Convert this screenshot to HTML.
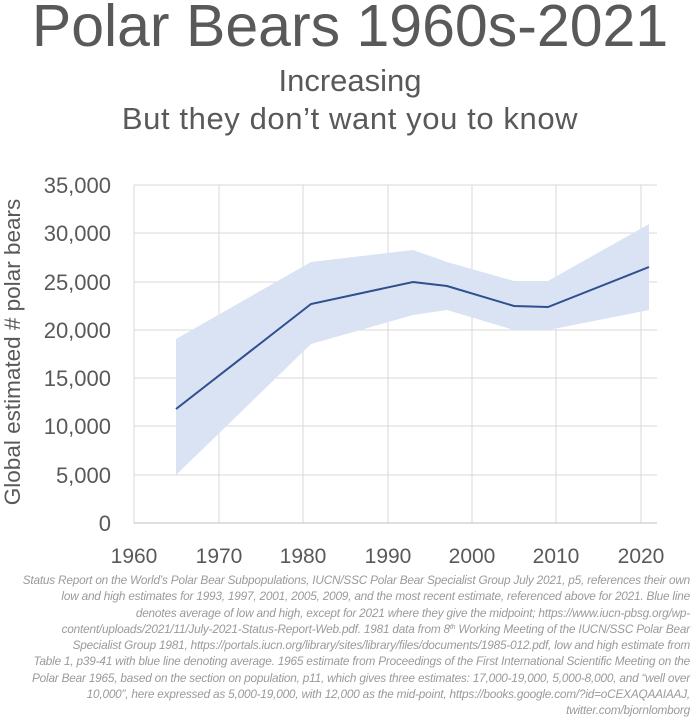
<!DOCTYPE html>
<html><head><style>
body{margin:0;width:700px;height:716px;background:#fff;font-family:"Liberation Sans",sans-serif;color:#595959;overflow:hidden;position:relative}
.t{position:absolute;left:0;width:700px;text-align:center;white-space:nowrap}
.foot{position:absolute;right:10px;top:572px;width:690px;text-align:right;font-style:italic;font-size:11.8px;line-height:16.3px;color:#9a9a9a;letter-spacing:-0.2px;white-space:nowrap}
sup{font-size:7px;line-height:0;vertical-align:4px}
</style></head><body>
<div class="t" style="top:-8px;font-size:59px">Polar Bears 1960s-2021</div>
<div class="t" style="top:63px;font-size:31px">Increasing</div>
<div class="t" style="top:101px;font-size:31px;letter-spacing:0.6px">But they don’t want you to know</div>
<svg width="700" height="716" style="position:absolute;left:0;top:0" font-family="Liberation Sans, sans-serif" fill="#595959">
<g stroke="#d9d9d9" stroke-width="1">
<line x1="134" x2="657" y1="185" y2="185"/><line x1="134" x2="657" y1="233" y2="233"/><line x1="134" x2="657" y1="282" y2="282"/><line x1="134" x2="657" y1="330" y2="330"/><line x1="134" x2="657" y1="378" y2="378"/><line x1="134" x2="657" y1="426" y2="426"/><line x1="134" x2="657" y1="475" y2="475"/>
<line x1="219" x2="219" y1="185" y2="523"/><line x1="303" x2="303" y1="185" y2="523"/><line x1="388" x2="388" y1="185" y2="523"/><line x1="472" x2="472" y1="185" y2="523"/><line x1="556" x2="556" y1="185" y2="523"/><line x1="641" x2="641" y1="185" y2="523"/>
</g>
<line x1="134" x2="134" y1="185" y2="523" stroke="#d9d9d9"/>
<line x1="134" x2="657" y1="523" y2="523" stroke="#bfbfbf"/>
<polygon fill="#dae3f3" points="176,339 311,262 413,250 447,262 514,281 548,281 649,224 649,310 548,330 514,330 447,310 413,315 311,344 176,475"/>
<polyline fill="none" stroke="#2f4f8f" stroke-width="2" points="176,409 311,304 413,282 447,286 514,306 548,307 649,267"/>
<g font-size="22" text-anchor="end">
<text x="111" y="193">35,000</text><text x="111" y="241">30,000</text><text x="111" y="290">25,000</text><text x="111" y="338">20,000</text><text x="111" y="386">15,000</text><text x="111" y="434">10,000</text><text x="111" y="483">5,000</text><text x="111" y="531">0</text>
</g>
<g font-size="21" text-anchor="middle">
<text x="134" y="563">1960</text><text x="219" y="563">1970</text><text x="303" y="563">1980</text><text x="388" y="563">1990</text><text x="472" y="563">2000</text><text x="556" y="563">2010</text><text x="641" y="563">2020</text>
</g>
<text transform="translate(20,352) rotate(-90)" font-size="22.5" text-anchor="middle">Global estimated # polar bears</text>
</svg>
<div class="foot">Status Report on the World’s Polar Bear Subpopulations, IUCN/SSC Polar Bear Specialist Group July 2021, p5, references their own<br>low and high estimates for 1993, 1997, 2001, 2005, 2009, and the most recent estimate, referenced above for 2021. Blue line<br>denotes average of low and high, except for 2021 where they give the midpoint; https://www.iucn-pbsg.org/wp-<br>content/uploads/2021/11/July-2021-Status-Report-Web.pdf. 1981 data from 8<sup>th</sup> Working Meeting of the IUCN/SSC Polar Bear<br>Specialist Group 1981, https://portals.iucn.org/library/sites/library/files/documents/1985-012.pdf, low and high estimate from<br>Table 1, p39-41 with blue line denoting average. 1965 estimate from Proceedings of the First International Scientific Meeting on the<br>Polar Bear 1965, based on the section on population, p11, which gives three estimates: 17,000-19,000, 5,000-8,000, and “well over<br>10,000”, here expressed as 5,000-19,000, with 12,000 as the mid-point, https://books.google.com/?id=oCEXAQAAIAAJ,<br>twitter.com/bjornlomborg</div>
</body></html>
